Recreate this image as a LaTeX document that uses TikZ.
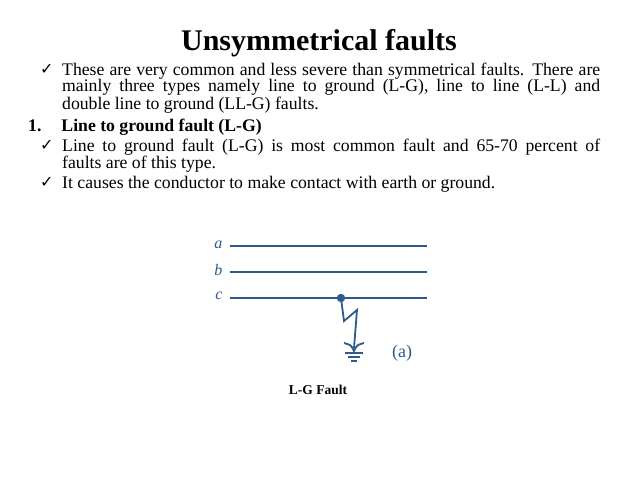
\documentclass[tikz,border=0pt]{standalone}
\usepackage{fontspec}
\setmainfont{Liberation Serif}
\newfontfamily\symf{DejaVu Sans}
\definecolor{wire}{HTML}{2E5A8C}
\begin{document}
\begin{tikzpicture}[x=1pt,y=-1pt,
  para/.style={anchor=north west,inner sep=0pt,text width=538pt,align=justify,font=\fontsize{17.7}{16.2}\selectfont},
  tick/.style={anchor=north west,inner sep=0pt,font=\symf\bfseries\fontsize{16}{16}\selectfont},
  wireline/.style={draw=wire,line width=1.8pt},
  lab/.style={text=wire,font=\itshape\fontsize{16}{16}\selectfont,anchor=east}]
\useasboundingbox[fill=white] (0,0) rectangle (638,478);
\node (title) at (319,43) {\bfseries\fontsize{30}{30}\selectfont Unsymmetrical faults};
\node[tick] (t1) at (40,64) {✓};
\node[para] (p1) at (62,63) {These are very common and less severe than symmetrical faults. There are\linebreak mainly three types namely line to ground (L-G), line to line (L-L) and\linebreak double line to ground (LL-G) faults.};
\node[para,text width=300pt] (p2) at (28,119) {\bfseries 1.\hspace{20pt}Line to ground fault (L-G)};
\node[tick] (t2) at (40,140) {✓};
\node[para] (p3) at (62,139) {Line to ground fault (L-G) is most common fault and 65-70 percent of\linebreak faults are of this type.};
\node[tick] (t3) at (40,177) {✓};
\node[para] (p4) at (62,176) {It causes the conductor to make contact with earth or ground.};
% diagram
\node[lab] (la) at (226,245) {a};
\node[lab] (lb) at (226,270) {b};
\node[lab] (lc) at (226,296) {c};
\coordinate (a1) at (230,246); \coordinate (a2) at (427,246);
\coordinate (b1) at (230,272); \coordinate (b2) at (427,272);
\coordinate (c1) at (230,298); \coordinate (c2) at (427,298);
\draw[wireline] (a1) -- (a2);
\draw[wireline] (b1) -- (b2);
\draw[wireline] (c1) -- (c2);
\coordinate (f) at (341,298);
\coordinate (g) at (354,348);
\fill[wire] (f) circle (4.2pt);
\draw[wireline,line join=miter] (f) -- (344,321) -- (357,310) -- (g);
\draw[wireline] (344,343) .. controls (351,345) .. (354,351) .. controls (357,345) .. (364,343);
\draw[wireline] (345,353) -- (363,353) (348,357) -- (360,357) (351,361) -- (357,361);
\node[text=wire,font=\fontsize{18}{18}\selectfont] (alab) at (402,353) {(a)};
\node[font=\bfseries\fontsize{13.5}{13.5}\selectfont] (cap) at (318,390) {L-G Fault};
\end{tikzpicture}
\end{document}
